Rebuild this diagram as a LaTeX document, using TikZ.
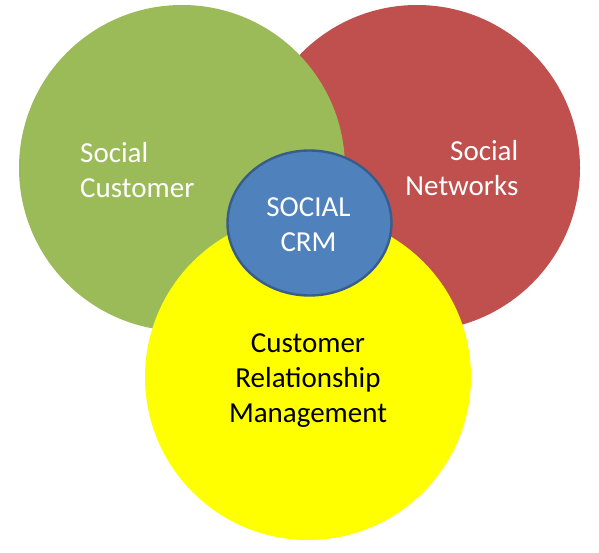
\documentclass[tikz,border=0pt]{standalone}
\usepackage{fontspec}
\setmainfont{Carlito}
\definecolor{cgreen}{HTML}{9BBB59}
\definecolor{cred}{HTML}{C0504D}
\definecolor{cyellow}{HTML}{FFFF00}
\definecolor{cblue}{HTML}{4F81BD}
\definecolor{cblueedge}{HTML}{385D8A}
\tikzset{
  lbl/.style={inner sep=0pt, font=\fontsize{29}{35}\selectfont},
}
\begin{document}
\begin{tikzpicture}[x=1pt,y=-1pt]
\useasboundingbox (0,0) rectangle (599,553);
\fill[white] (0,0) rectangle (599,553);
\fill[cred] (417,168) circle (163);
\fill[cgreen] (182,168) circle (163);
\fill[cyellow] (308,377) circle (163);
\draw[cblueedge, line width=2.4pt, fill=cblue] (309.5,223) ellipse [x radius=82, y radius=72.5];
\node[lbl, text=white, anchor=west, align=left] (sc) at (80,173) {\strut Social\\\strut Customer};
\node[lbl, text=white, anchor=east, align=right] (sn) at (518.5,171) {\strut Social\\\strut Networks};
\node[lbl, text=white, align=center] (crm) at (308.5,227) {\strut SOCIAL\\\strut CRM};
\node[lbl, text=black, align=center] (m) at (308,380.5) {\strut Customer\\\strut Relationship\\\strut Management};
\end{tikzpicture}
\end{document}
